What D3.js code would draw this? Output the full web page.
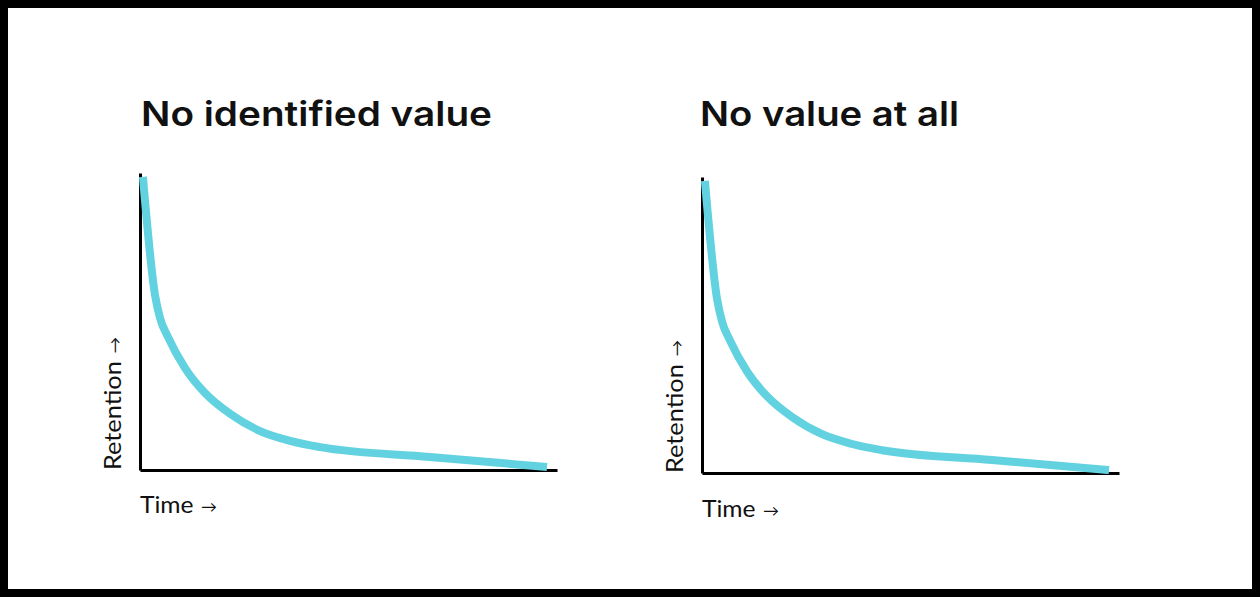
<!DOCTYPE html>
<html lang="en">
<head>
<meta charset="utf-8">
<title>Retention curves</title>
<script src="https://d3js.org/d3.v7.min.js"></script>
<style>
  html, body { margin: 0; padding: 0; background: #fff; }
  svg { display: block; }
  .title { font-family: "Inter", "Lato", sans-serif; font-weight: 600; fill: #111; }
  .label { font-family: "Lato", "Open Sans", sans-serif; font-weight: 400; fill: #111; }
</style>
</head>
<body>
<script>
// chart titles
var titles = ["No identified value", "No value at all"];
var xLabel = "Time";
var yLabel = "Retention";

// retention curve (time %, retention %)
var time      = [0.7, 3.6, 4.8, 6.7, 10.8, 15.6, 21.6, 28.8, 36.0, 43.2, 69.5, 97.6];
var retention = [98.7, 58.9, 51.2, 44.8, 34.3, 25.9, 18.9, 13.1, 9.8, 7.7, 4.4, 1.0];

var W = 1260, H = 597;

var svg = d3.select("body").append("svg")
    .attr("width", W)
    .attr("height", H);

// black frame
svg.append("rect")
    .attr("x", 4).attr("y", 4)
    .attr("width", W - 8).attr("height", H - 8)
    .attr("fill", "#fff")
    .attr("stroke", "#000")
    .attr("stroke-width", 8);

var panels = [
    {title: titles[0], ox: 140, oy: 470, top: 173, right: 557, titleX: 141, titleW: 351, timeY: 513},
    {title: titles[1], ox: 702, oy: 473, top: 177, right: 1119, titleX: 700, titleW: 259, timeY: 517}
];

var pts = time.map(function(t, i) { return {t: t, r: retention[i]}; });

function addLabel(sel, txt, len) {
    sel.attr("textLength", len).attr("lengthAdjust", "spacingAndGlyphs");
    sel.append("tspan").text(txt);
    sel.append("tspan")
        .attr("font-size", 15)
        .attr("dx", 7)
        .attr("dy", -1)
        .text("\u2192");
}

panels.forEach(function(p) {
    var x = d3.scaleLinear().domain([0, 100]).range([p.ox, p.right]);
    var y = d3.scaleLinear().domain([0, 100]).range([p.oy, p.top]);

    svg.append("text")
        .attr("class", "title")
        .attr("x", p.titleX)
        .attr("y", 126)
        .attr("font-size", 34)
        .attr("textLength", p.titleW)
        .attr("lengthAdjust", "spacingAndGlyphs")
        .text(p.title);

    svg.append("g")
        .attr("transform", "translate(0," + p.oy + ")")
        .call(d3.axisBottom(x).ticks(0).tickSizeOuter(0))
        .select(".domain")
        .attr("stroke", "#000")
        .attr("stroke-width", 3);

    svg.append("g")
        .attr("transform", "translate(" + p.ox + ",0)")
        .call(d3.axisLeft(y).ticks(0).tickSizeOuter(0))
        .select(".domain")
        .attr("stroke", "#000")
        .attr("stroke-width", 3);

    var line = d3.line()
        .x(function(d) { return x(d.t); })
        .y(function(d) { return y(d.r); })
        .curve(d3.curveMonotoneX);

    svg.append("path")
        .datum(pts)
        .attr("d", line)
        .attr("fill", "none")
        .attr("stroke", "#62d2e0")
        .attr("stroke-width", 8);

    svg.append("text")
        .attr("class", "label")
        .attr("x", p.ox)
        .attr("y", p.timeY)
        .attr("font-size", 23)
        .call(addLabel, xLabel, 77);

    svg.append("text")
        .attr("class", "label")
        .attr("transform", "translate(" + (p.ox - 19) + "," + p.oy + ") rotate(-90)")
        .attr("font-size", 23)
        .call(addLabel, yLabel, 133);
});
</script>
</body>
</html>
